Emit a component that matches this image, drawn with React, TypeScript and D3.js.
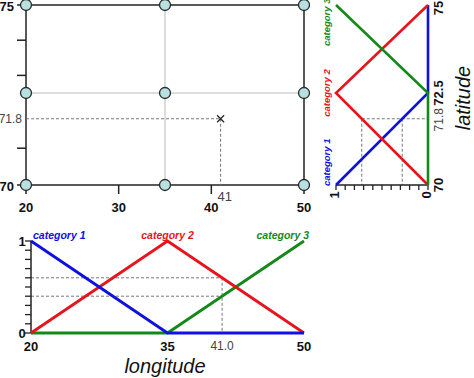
import React from "react";
import * as d3 from "d3";

// ---- data ----
const lonBreaks = [20, 35, 50];
const latBreaks = [70, 72.5, 75];
const categories = ["category 1", "category 2", "category 3"];
const colors = ["#1010e0", "#e8141c", "#13891a"];
// membership of each category at the breakpoints
const lonMembership = [
  [1, 0, 0],
  [0, 1, 0],
  [0, 0, 1],
];
const latMembership = [
  [1, 0, 0],
  [0, 1, 0],
  [0, 0, 1],
];
const queryLon = 41;
const queryLat = 71.8;
const mainXTicks = [20, 30, 40, 50];
const mainYLabels = [70, 75];
const mainYMinor = [71, 73, 74];
const memTicks = d3.range(0, 11).map((i) => i / 10);

const FONT = "'Liberation Sans', Arial, sans-serif";
const NARROW = "'Liberation Sans Narrow', 'Liberation Sans', Arial, sans-serif";

export default function App() {
  // main plot scales
  const x = d3.scaleLinear().domain([20, 50]).range([26, 304]);
  const y = d3.scaleLinear().domain([70, 72.5, 75]).range([185, 93, 5]);
  // right membership plot (horizontal membership, latitude vertical)
  const mR = d3.scaleLinear().domain([0, 1]).range([428, 336]);
  // bottom membership plot
  const xB = d3.scaleLinear().domain([20, 50]).range([31, 304]);
  const mB = d3.scaleLinear().domain([0, 1]).range([333, 241]);

  const lineB = d3
    .line<[number, number]>()
    .x((d) => xB(d[0]))
    .y((d) => mB(d[1]));
  const lineR = d3
    .line<[number, number]>()
    .x((d) => mR(d[1]))
    .y((d) => y(d[0]));

  // memberships at query point
  const lonInterp = (c: number, v: number) => {
    const f = d3.scaleLinear().domain(lonBreaks).range(lonMembership[c]);
    return f(v);
  };
  const latInterp = (c: number, v: number) => {
    const f = d3.scaleLinear().domain(latBreaks).range(latMembership[c]);
    return f(v);
  };
  const lonVals = [0, 1, 2].map((c) => lonInterp(c, queryLon)).filter((v) => v > 0);
  const latVals = [0, 1, 2].map((c) => latInterp(c, queryLat)).filter((v) => v > 0);

  const dash = { stroke: "#777", strokeWidth: 1, strokeDasharray: "3,2", fill: "none" };
  const qx = x(queryLon);
  const qy = y(queryLat);

  return (
    <svg
      width={474}
      height={378}
      style={{ position: "absolute", left: 0, top: 0, background: "#fff" }}
      fontFamily={FONT}
    >
      {/* ===== main plot ===== */}
      <line x1={x(35)} x2={x(35)} y1={y(70)} y2={y(75)} stroke="#bbb" strokeWidth={1} />
      <line x1={x(20)} x2={x(50)} y1={y(72.5)} y2={y(72.5)} stroke="#bbb" strokeWidth={1} />
      <line x1={x(20)} x2={x(50)} y1={y(75)} y2={y(75)} stroke="#222" strokeWidth={1.5} />
      <line x1={x(50)} x2={x(50)} y1={y(70)} y2={y(75)} stroke="#222" strokeWidth={1.5} />
      <line x1={x(20)} x2={x(50)} y1={y(70)} y2={y(70)} stroke="#222" strokeWidth={1.5} />
      <line x1={x(20)} x2={x(20)} y1={y(70)} y2={y(75)} stroke="#222" strokeWidth={1.5} />
      {mainXTicks.map((t) => (
        <g key={"xt" + t}>
          <line x1={x(t)} x2={x(t)} y1={y(70)} y2={y(70) + 9} stroke="#222" strokeWidth={1.5} />
          <text x={x(t)} y={207} textAnchor="middle" dominantBaseline="central" fontSize={13} fontWeight="bold" fill="#111">
            {t}
          </text>
        </g>
      ))}
      {[...mainYLabels, ...mainYMinor].map((t) => (
        <line key={"yt" + t} x1={x(20) - 9} x2={x(20)} y1={y(t)} y2={y(t)} stroke="#222" strokeWidth={1.5} />
      ))}
      {mainYLabels.map((t) => (
        <text key={"yl" + t} x={14} y={y(t) + 1.5} textAnchor="end" dominantBaseline="central" fontSize={13} fontWeight="bold" fill="#111">
          {t}
        </text>
      ))}
      {/* query point */}
      <line x1={x(20)} x2={qx} y1={qy} y2={qy} style={dash} />
      <line x1={qx} x2={qx} y1={qy} y2={y(70)} style={dash} />
      <path d={`M${qx - 3.5},${qy - 3.5}L${qx + 3.5},${qy + 3.5}M${qx - 3.5},${qy + 3.5}L${qx + 3.5},${qy - 3.5}`} stroke="#222" strokeWidth={1.2} />
      <text x={22} y={qy} textAnchor="end" dominantBaseline="central" fontSize={12} fontFamily={NARROW} fill="#444">
        {queryLat}
      </text>
      <text x={qx - 3} y={196} textAnchor="start" dominantBaseline="central" fontSize={13} fontFamily={NARROW} fill="#444">
        {queryLon}
      </text>
      {lonBreaks.map((lo) =>
        latBreaks.map((la) => (
          <circle key={lo + "-" + la} cx={x(lo)} cy={y(la)} r={5.5} fill="#b9e0e0" stroke="#2a2a2a" strokeWidth={1.3} />
        ))
      )}

      {/* ===== right membership plot (latitude) ===== */}
      {latVals.map((v, i) => (
        <line key={"rv" + i} x1={mR(v)} x2={mR(v)} y1={qy} y2={y(70)} style={dash} />
      ))}
      <line x1={d3.min(latVals.map((v) => mR(v)))} x2={mR(0)} y1={qy} y2={qy} style={dash} />
      <line x1={mR(1)} x2={mR(0)} y1={y(70)} y2={y(70)} stroke="#222" strokeWidth={1.5} />
      {memTicks.map((t) => (
        <line key={"rt" + t} x1={mR(t)} x2={mR(t)} y1={y(70)} y2={y(70) + 5} stroke="#222" strokeWidth={1.3} />
      ))}
      {categories.map((c, i) => (
        <path
          key={"rl" + c}
          d={lineR(latBreaks.map((b, j) => [b, latMembership[i][j]] as [number, number])) || ""}
          stroke={colors[i]}
          strokeWidth={2.6}
          fill="none"
        />
      ))}
      {[
        { v: 1, lbl: "1" },
        { v: 0, lbl: "0" },
      ].map((d) => (
        <text
          key={"rml" + d.lbl}
          transform={`translate(${mR(d.v) - 2},${y(70) + 10}) rotate(-90)`}
          textAnchor="middle"
          dominantBaseline="central"
          fontSize={13}
          fontWeight="bold"
          fill="#111"
        >
          {d.lbl}
        </text>
      ))}
      {latBreaks.map((b) => (
        <text
          key={"rlat" + b}
          transform={`translate(438,${b === 75 ? 8 : y(b)}) rotate(-90)`}
          textAnchor="middle"
          dominantBaseline="central"
          fontSize={13}
          fontWeight="bold"
          fill="#111"
        >
          {b}
        </text>
      ))}
      <text
        transform={`translate(439,${qy + 1}) rotate(-90)`}
        textAnchor="middle"
        dominantBaseline="central"
        fontSize={12}
        fontFamily={NARROW}
        fill="#444"
      >
        {queryLat}
      </text>
      <text transform={`translate(326,186) rotate(-90)`} textAnchor="start" dominantBaseline="central" fontSize={9.5} fontWeight="bold" fontStyle="italic" fill={colors[0]}>
        {categories[0]}
      </text>
      <text transform={`translate(326,${y(72.5)}) rotate(-90)`} textAnchor="middle" dominantBaseline="central" fontSize={9.5} fontWeight="bold" fontStyle="italic" fill={colors[1]}>
        {categories[1]}
      </text>
      <text transform={`translate(326,46) rotate(-90)`} textAnchor="start" dominantBaseline="central" fontSize={9.5} fontWeight="bold" fontStyle="italic" fill={colors[2]}>
        {categories[2]}
      </text>
      <text transform="translate(470,98) rotate(-90)" textAnchor="middle" fontSize={20} fontStyle="italic" fill="#111">
        latitude
      </text>

      {/* ===== bottom membership plot (longitude) ===== */}
      {lonVals.map((v, i) => (
        <line key={"bh" + i} x1={xB(20)} x2={xB(queryLon)} y1={mB(v)} y2={mB(v)} style={dash} />
      ))}
      <line x1={xB(queryLon)} x2={xB(queryLon)} y1={d3.min(lonVals.map((v) => mB(v)))} y2={mB(0)} style={dash} />
      <line x1={xB(20)} x2={xB(20)} y1={mB(0)} y2={mB(1)} stroke="#222" strokeWidth={1.5} />
      {memTicks.map((t) => (
        <line key={"bt" + t} x1={xB(20) - 6} x2={xB(20)} y1={mB(t)} y2={mB(t)} stroke="#222" strokeWidth={1.3} />
      ))}
      {[0, 1].map((t) => (
        <text key={"bml" + t} x={22} y={mB(t)} textAnchor="middle" dominantBaseline="central" fontSize={13} fontWeight="bold" fill="#111">
          {t}
        </text>
      ))}
      {[...categories].reverse().map((c, ri) => {
        const i = categories.length - 1 - ri;
        return (
          <path
            key={"bl" + c}
            d={lineB(lonBreaks.map((b, j) => [b, lonMembership[i][j]] as [number, number])) || ""}
            stroke={colors[i]}
            strokeWidth={2.8}
            fill="none"
          />
        );
      })}
      {lonBreaks.map((b) => (
        <text key={"blon" + b} x={xB(b)} y={346} textAnchor="middle" dominantBaseline="central" fontSize={13} fontWeight="bold" fill="#111">
          {b}
        </text>
      ))}
      <text x={xB(queryLon)} y={346} textAnchor="middle" dominantBaseline="central" fontSize={12} fontFamily={NARROW} fill="#444">
        {queryLon.toFixed(1)}
      </text>
      <text x={33} y={235} textAnchor="start" dominantBaseline="central" fontSize={10.5} fontWeight="bold" fontStyle="italic" fill={colors[0]}>
        {categories[0]}
      </text>
      <text x={xB(35)} y={235} textAnchor="middle" dominantBaseline="central" fontSize={10.5} fontWeight="bold" fontStyle="italic" fill={colors[1]}>
        {categories[1]}
      </text>
      <text x={309} y={235} textAnchor="end" dominantBaseline="central" fontSize={10.5} fontWeight="bold" fontStyle="italic" fill={colors[2]}>
        {categories[2]}
      </text>
      <text x={165} y={373} textAnchor="middle" fontSize={20} fontStyle="italic" fill="#111">
        longitude
      </text>
    </svg>
  );
}
